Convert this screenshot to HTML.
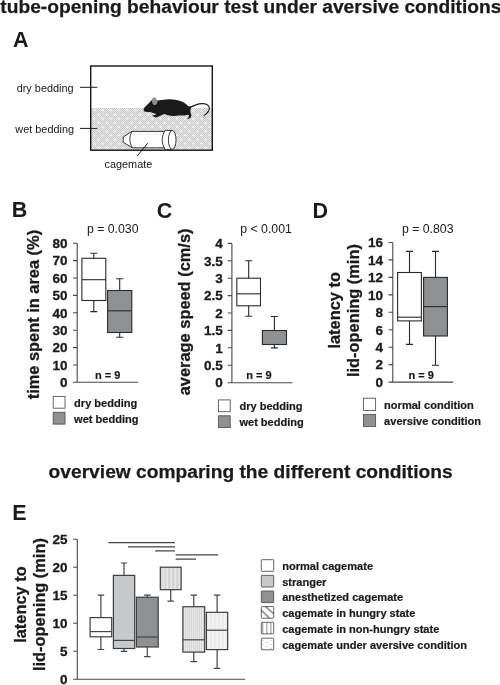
<!DOCTYPE html>
<html lang="en"><head><meta charset="utf-8"><title>tube-opening behaviour test under aversive conditions</title>
<style>
html,body{margin:0;padding:0;background:#fff;}
body{width:500px;height:685px;overflow:hidden;}
svg{display:block;font-family:"Liberation Sans", Arial, Helvetica, sans-serif;fill:#1a1a1a;}
.b{font-weight:bold;}
.t{font-size:19.2px;font-weight:bold;stroke:#1a1a1a;stroke-width:0.25px;}
.pl{font-size:21.5px;font-weight:bold;}
.n{font-size:10.9px;}
.p{font-size:12.3px;}
.tk{font-size:13.5px;font-weight:bold;text-anchor:end;stroke:#1a1a1a;stroke-width:0.3px;}
.yt{font-size:16.4px;font-weight:bold;text-anchor:middle;stroke:#1a1a1a;stroke-width:0.3px;}
.lg{font-size:11.05px;font-weight:bold;stroke:#1a1a1a;stroke-width:0.2px;}
.n9{font-size:11px;font-weight:bold;stroke:#1a1a1a;stroke-width:0.2px;}
.ax{stroke:#484848;stroke-width:1.1;fill:none;}
.bx{stroke:#2a2a2a;stroke-width:1.1;}
.wk{stroke:#2a2a2a;stroke-width:1.1;fill:none;}
.bxe{stroke:#3e3e3e;stroke-width:1.2;}
.wke{stroke:#454545;stroke-width:1.2;fill:none;}
.sq{stroke:#555;stroke-width:0.9;}
</style></head><body>
<svg width="500" height="685" viewBox="0 0 500 685">
<defs>
<pattern id="chk" x="0" y="0" width="2" height="2" patternUnits="userSpaceOnUse"><rect width="2" height="2" fill="#e6e6e6"/><rect x="0" y="0" width="1" height="1" fill="#c9c9c9"/><rect x="1" y="1" width="1" height="1" fill="#c9c9c9"/></pattern>
<pattern id="dots" x="90.3" y="108.35" width="8.25" height="8.34" patternUnits="userSpaceOnUse"><circle cx="4.1" cy="2.1" r="1.0" fill="#fff"/><circle cx="-0.02" cy="6.27" r="1.0" fill="#fff"/><circle cx="8.23" cy="6.27" r="1.0" fill="#fff"/></pattern>
<pattern id="s4" x="160.3" y="0" width="4" height="4" patternUnits="userSpaceOnUse"><rect width="4" height="4" fill="#e6e6e6"/><rect x="0" width="2" height="4" fill="#d2d2d2"/></pattern>
<pattern id="s5" x="183" y="0" width="2" height="4" patternUnits="userSpaceOnUse"><rect width="2" height="4" fill="#e8e8e8"/><rect x="0" width="1" height="4" fill="#d6d6d6"/></pattern>
<pattern id="s6" x="206.4" y="0" width="4" height="4" patternUnits="userSpaceOnUse"><rect width="4" height="4" fill="#f3f3f3"/><rect x="0" width="1.5" height="4" fill="#e6e6e6"/></pattern>
</defs>
<text class="t" x="0.3" y="13.2">tube-opening behaviour test under aversive conditions</text>
<text class="t" x="48.6" y="478.1">overview comparing the different conditions</text>
<text class="pl" x="13" y="47">A</text>
<text class="pl" x="11.8" y="217.2">B</text>
<text class="pl" x="156.7" y="217.8">C</text>
<text class="pl" x="312.5" y="218">D</text>
<text class="pl" x="12.3" y="520.3">E</text>
<g id="panelA">
<rect x="91" y="108" width="121" height="42" fill="url(#chk)" shape-rendering="crispEdges"/>
<rect x="91" y="108" width="121" height="42" fill="url(#dots)"/>
<rect x="90.7" y="66" width="121.6" height="84.2" fill="none" stroke="#151515" stroke-width="1.4"/>
<line x1="80" y1="87.3" x2="97.3" y2="87.3" stroke="#1a1a1a" stroke-width="1"/>
<line x1="80" y1="128.4" x2="97.3" y2="128.4" stroke="#1a1a1a" stroke-width="1"/>
<text class="n" x="16.7" y="91.8">dry bedding</text>
<text class="n" x="15.3" y="132.6">wet bedding</text>
<text class="n" x="104.5" y="167.7">cagemate</text>
<g stroke="#1a1a1a" stroke-width="0.85" fill="#fff" stroke-linejoin="round">
<path d="M123.2 137 L131.8 131.4 L165 131.4 L165 147.8 L132.2 147.8 L123.2 142.2 Z"/>
<path d="M131.8 131.4 Q127.6 139.6 132.2 147.8" fill="none"/>
<path d="M172.2 130.4 L164.9 130.4 Q159.4 139.8 164.9 149.4 L172.2 149.4 Z"/>
<ellipse cx="172.2" cy="139.9" rx="3.8" ry="9.5"/>
</g>
<line x1="147.6" y1="143.2" x2="137.2" y2="156" stroke="#1a1a1a" stroke-width="1"/>
<path d="M143.6 110 C143.6 109 143.8 108.4 144.4 107.6 L148 104 L151.6 100.2 L153.6 98.6 L157.6 100.6 C160 100.2 162 100 164 99.8 C166 99.4 168 99.1 170 99.2 C174 99.4 177 100 179.8 100.8 C182 101.6 184 102.6 185.6 103.8 C187 105 188 106 189 106.6 C191 106.4 193 105 195.8 104.2 C198 103.4 200 103.1 202.2 103.1 C204.5 103.1 206.5 103.6 207.8 104.6 C209.4 105.8 210 107.4 209.8 109 C209.6 111 208 113 206.4 114.4 L203.8 116.2 L203.4 115.8 C205.4 114 207.6 112 208.6 109.8 C209.2 108 208.6 106.4 207.2 105.4 C205.8 104.4 204 104.2 202.2 104.2 C200 104.2 198 104.6 196 105.4 C194 106.2 192.4 107 191.2 107.6 C190.6 109 190.2 110.6 190.4 112 C190.6 113.4 191.4 114.4 191.4 115.4 C191.4 116.4 191 117.2 190.4 117.8 C189.8 118.6 188.8 118.9 188 118.8 L186.8 118.2 C187.8 117.8 188.8 117.2 188.9 116.4 C189 115.6 188.6 115 188 114.8 C186 115.2 185 115.5 183.6 115.6 C180 115.8 177 115.6 174 115.9 C172 116 170 115.6 168 115.2 C166.6 114.8 165.2 114.2 164 114.2 C162.8 114.4 161.8 115 160.8 115.6 C159 116.6 157.4 117.4 155.6 117.6 L152 115.8 C153 115.4 154.4 115.2 155.4 114.8 L156 113.8 C154 113.4 152 112.4 150.4 112 C149 111.9 148 112.2 147.2 112 C146 111.8 144.8 111.6 144 111.2 C143.7 110.9 143.6 110.4 143.6 110 Z" fill="#1a1a1a"/>
<path d="M151.6 99.2 L154 97.2 L155.6 98 L157.6 101.6 L156.4 104.4 L154 105.2 L152.4 103.6 Z" fill="#8c8c8c"/>
</g>
<g id="panelB">
<path class="ax" d="M77.2 243.2 V382.3 M73.0 382.3 H138.3"/>
<path class="ax" d="M73.0 243.2 H77.2 M73.0 260.6 H77.2 M73.0 278.0 H77.2 M73.0 295.4 H77.2 M73.0 312.8 H77.2 M73.0 330.2 H77.2 M73.0 347.6 H77.2 M73.0 365.0 H77.2"/>
<text class="tk" x="67.6" y="248.0">80</text>
<text class="tk" x="67.6" y="265.4">70</text>
<text class="tk" x="67.6" y="282.8">60</text>
<text class="tk" x="67.6" y="300.2">50</text>
<text class="tk" x="67.6" y="317.6">40</text>
<text class="tk" x="67.6" y="335.0">30</text>
<text class="tk" x="67.6" y="352.4">20</text>
<text class="tk" x="67.6" y="369.8">10</text>
<text class="tk" x="67.6" y="387.2">0</text>
<path class="wk" d="M93.8 258.3 V253.2 M90.3 253.2 H97.3 M93.8 300.5 V311.6 M90.3 311.6 H97.3"/>
<rect class="bx" x="81.9" y="258.3" width="23.9" height="42.2" fill="#fff"/>
<path class="wk" d="M81.9 279.7 H105.8"/>
<path class="wk" d="M119.7 290.5 V278.8 M116.2 278.8 H123.2 M119.7 332.5 V337.2 M116.2 337.2 H123.2"/>
<rect class="bx" x="107.6" y="290.5" width="24.2" height="42.0" fill="#8f9092"/>
<path class="wk" d="M107.6 310.8 H131.8"/>
<text class="p" x="86.9" y="232.9">p = 0.030</text>
<text class="n9" x="94.9" y="378.5">n = 9</text>
<text class="yt" transform="translate(38.9 314.6) rotate(-90)">time spent in area (%)</text>
<rect class="sq" x="53.2" y="396.4" width="11.8" height="11.8" fill="#fff"/>
<rect class="sq" x="53.2" y="412.3" width="11.8" height="11.8" fill="#8f9092"/>
<text class="lg" x="74.1" y="407">dry bedding</text>
<text class="lg" x="74.1" y="422.6">wet bedding</text>
</g>
<g id="panelC">
<path class="ax" d="M231.9 243.4 V382.7 M227.7 382.7 H292.4"/>
<path class="ax" d="M227.7 243.4 H231.9 M227.7 260.8 H231.9 M227.7 278.2 H231.9 M227.7 295.6 H231.9 M227.7 313.0 H231.9 M227.7 330.4 H231.9 M227.7 347.8 H231.9 M227.7 365.2 H231.9"/>
<text class="tk" x="222.8" y="248.2">4</text>
<text class="tk" x="222.8" y="265.6">3.5</text>
<text class="tk" x="222.8" y="283.0">3</text>
<text class="tk" x="222.8" y="300.4">2.5</text>
<text class="tk" x="222.8" y="317.8">2</text>
<text class="tk" x="222.8" y="335.2">1.5</text>
<text class="tk" x="222.8" y="352.6">1</text>
<text class="tk" x="222.8" y="370.0">0.5</text>
<text class="tk" x="222.8" y="387.4">0</text>
<path class="wk" d="M248.7 278.2 V260.8 M245.2 260.8 H252.2 M248.7 305.8 V316.2 M245.2 316.2 H252.2"/>
<rect class="bx" x="236.8" y="278.2" width="23.7" height="27.6" fill="#fff"/>
<path class="wk" d="M236.8 293.8 H260.5"/>
<path class="wk" d="M274.4 330.5 V316.5 M270.9 316.5 H277.9 M274.4 344.5 V347.9 M270.9 347.9 H277.9"/>
<rect class="bx" x="262.4" y="330.5" width="24.1" height="14.0" fill="#8f9092"/>
<text class="p" x="240.2" y="232.9">p &lt; 0.001</text>
<text class="n9" x="246.2" y="378.5">n = 9</text>
<text class="yt" transform="translate(189.6 311.9) rotate(-90)">average speed (cm/s)</text>
<rect class="sq" x="218.4" y="399.9" width="11.8" height="11.8" fill="#fff"/>
<rect class="sq" x="218.4" y="415.8" width="11.8" height="11.8" fill="#8f9092"/>
<text class="lg" x="239.4" y="410">dry bedding</text>
<text class="lg" x="239.4" y="425.6">wet bedding</text>
</g>
<g id="panelD">
<path class="ax" d="M392.8 242.5 V382.1 M388.6 382.1 H453.2"/>
<path class="ax" d="M388.6 242.5 H392.8 M388.6 259.9 H392.8 M388.6 277.4 H392.8 M388.6 294.9 H392.8 M388.6 312.3 H392.8 M388.6 329.8 H392.8 M388.6 347.2 H392.8 M388.6 364.6 H392.8"/>
<text class="tk" x="383.0" y="247.3">16</text>
<text class="tk" x="383.0" y="264.8">14</text>
<text class="tk" x="383.0" y="282.2">12</text>
<text class="tk" x="383.0" y="299.7">10</text>
<text class="tk" x="383.0" y="317.1">8</text>
<text class="tk" x="383.0" y="334.6">6</text>
<text class="tk" x="383.0" y="352.0">4</text>
<text class="tk" x="383.0" y="369.4">2</text>
<text class="tk" x="383.0" y="386.9">0</text>
<path class="wk" d="M409.5 272.5 V251.4 M406.0 251.4 H413.0 M409.5 320.9 V344.4 M406.0 344.4 H413.0"/>
<rect class="bx" x="397.6" y="272.5" width="23.8" height="48.4" fill="#fff"/>
<path class="wk" d="M397.6 317.2 H421.4"/>
<path class="wk" d="M435.5 277.4 V251.4 M432.0 251.4 H439.0 M435.5 336.0 V365.3 M432.0 365.3 H439.0"/>
<rect class="bx" x="423.6" y="277.4" width="23.8" height="58.6" fill="#8f9092"/>
<path class="wk" d="M423.6 306.6 H447.4"/>
<text class="p" x="401.9" y="232.9">p = 0.803</text>
<text class="n9" x="408.6" y="378.5">n = 9</text>
<text class="yt" transform="translate(339.8 310.3) rotate(-90)">latency to</text>
<text class="yt" transform="translate(358.8 310.6) rotate(-90)">lid-opening (min)</text>
<rect class="sq" x="363.4" y="398.2" width="12.2" height="12.2" fill="#fff"/>
<rect class="sq" x="363.4" y="414.4" width="12.2" height="12.2" fill="#8f9092"/>
<text class="lg" x="384.1" y="408.7">normal condition</text>
<text class="lg" x="384.1" y="424.5">aversive condition</text>
</g>
<g id="panelE">
<path class="ax" d="M77.3 539.2 V679.3 M73.1 679.3 H245.0"/>
<path class="ax" d="M73.1 539.2 H77.3 M73.1 567.2 H77.3 M73.1 595.2 H77.3 M73.1 623.2 H77.3 M73.1 651.2 H77.3"/>
<text class="tk" x="67.6" y="544.0">25</text>
<text class="tk" x="67.6" y="572.0">20</text>
<text class="tk" x="67.6" y="600.0">15</text>
<text class="tk" x="67.6" y="628.0">10</text>
<text class="tk" x="67.6" y="656.0">5</text>
<text class="tk" x="67.6" y="684.0">0</text>
<path class="wke" d="M100.9 617.6 V595.1 M97.7 595.1 H104.2 M100.9 636.8 V649.5 M97.7 649.5 H104.2"/>
<rect class="bxe" x="90.1" y="617.6" width="21.6" height="19.2" fill="#fff"/>
<path class="wke" d="M90.1 631.6 H111.7"/>
<path class="wke" d="M124.0 575.4 V563.0 M120.8 563.0 H127.3 M124.0 648.5 V651.3 M120.8 651.3 H127.3"/>
<rect class="bxe" x="113.4" y="575.4" width="21.3" height="73.1" fill="#c7c8ca"/>
<path class="wke" d="M113.4 640.4 H134.7"/>
<path class="wke" d="M147.3 597.2 V595.2 M144.1 595.2 H150.6 M147.3 647.0 V656.6 M144.1 656.6 H150.6"/>
<rect class="bxe" x="136.4" y="597.2" width="21.8" height="49.8" fill="#8f9092"/>
<path class="wke" d="M136.4 637.0 H158.2"/>
<path class="wke" d="M170.7 589.7 V601.1 M167.4 601.1 H173.9"/>
<rect class="bxe" x="160.3" y="567.2" width="20.8" height="22.5" fill="url(#s4)"/>
<path class="wke" d="M193.8 606.7 V595.2 M190.6 595.2 H197.1 M193.8 652.1 V661.6 M190.6 661.6 H197.1"/>
<rect class="bxe" x="182.9" y="606.7" width="21.8" height="45.4" fill="url(#s5)"/>
<path class="wke" d="M182.9 639.8 H204.7"/>
<path class="wke" d="M217.1 612.3 V595.2 M213.8 595.2 H220.3 M217.1 649.6 V668.3 M213.8 668.3 H220.3"/>
<rect class="bxe" x="206.4" y="612.3" width="21.3" height="37.3" fill="url(#s6)"/>
<path class="wke" d="M206.4 630.2 H227.7"/>
<path class="wke" d="M108.4 542.6 H175 M128 546.8 H175 M155.2 550.8 H175 M175.6 554.9 H218.2 M175.6 559.1 H196"/>
<text class="yt" transform="translate(25.8 604.6) rotate(-90)">latency to</text>
<text class="yt" transform="translate(44.7 604.6) rotate(-90)">lid-opening (min)</text>
<rect x="261.3" y="559.7" width="12.4" height="11.6" fill="#fff"/>
<rect class="sq" x="261.3" y="559.7" width="12.4" height="11.6" rx="0.6" fill="none"/>
<text class="lg" x="282.2" y="570.1">normal cagemate</text>
<rect x="261.3" y="575.4" width="12.4" height="11.6" fill="#c7c8ca"/>
<rect class="sq" x="261.3" y="575.4" width="12.4" height="11.6" rx="0.6" fill="none"/>
<text class="lg" x="282.2" y="585.8">stranger</text>
<rect x="261.3" y="591.0" width="12.4" height="11.6" fill="#8f9092"/>
<rect class="sq" x="261.3" y="591.0" width="12.4" height="11.6" rx="0.6" fill="none"/>
<text class="lg" x="282.2" y="601.4">anesthetized cagemate</text>
<rect x="261.3" y="606.6" width="12.4" height="11.6" fill="#fff"/>
<path d="M265.4 606.6 L273.7 613.8 M261.3 610.2 L269.6 618.2" stroke="#a0a0a0" stroke-width="2" fill="none"/>
<rect class="sq" x="261.3" y="606.6" width="12.4" height="11.6" rx="0.6" fill="none"/>
<text class="lg" x="282.2" y="617.0">cagemate in hungry state</text>
<rect x="261.3" y="622.3" width="12.4" height="11.6" fill="#fff"/>
<path d="M262.7 622.3 V633.9 M266.8 622.3 V633.9 M270.9 622.3 V633.9" stroke="#a6a6a6" stroke-width="1.25" fill="none"/>
<rect class="sq" x="261.3" y="622.3" width="12.4" height="11.6" rx="0.6" fill="none"/>
<text class="lg" x="282.2" y="632.7">cagemate in non-hungry state</text>
<rect x="261.3" y="638.2" width="12.4" height="11.6" fill="#fcfcfc"/>
<path d="M261.9 640.4h1.6M270.2 640.4h1.6M266.0 642.5h1.6M261.9 644.5h1.6M270.2 644.5h1.6M266.0 646.4h1.6M270.2 648.4h1.6M261.9 648.4h1.6" stroke="#b0b0b0" stroke-width="0.6" fill="none"/>
<rect class="sq" x="261.3" y="638.2" width="12.4" height="11.6" rx="0.6" fill="none"/>
<text class="lg" x="282.2" y="648.6">cagemate under aversive condition</text>
</g>
</svg></body></html>
